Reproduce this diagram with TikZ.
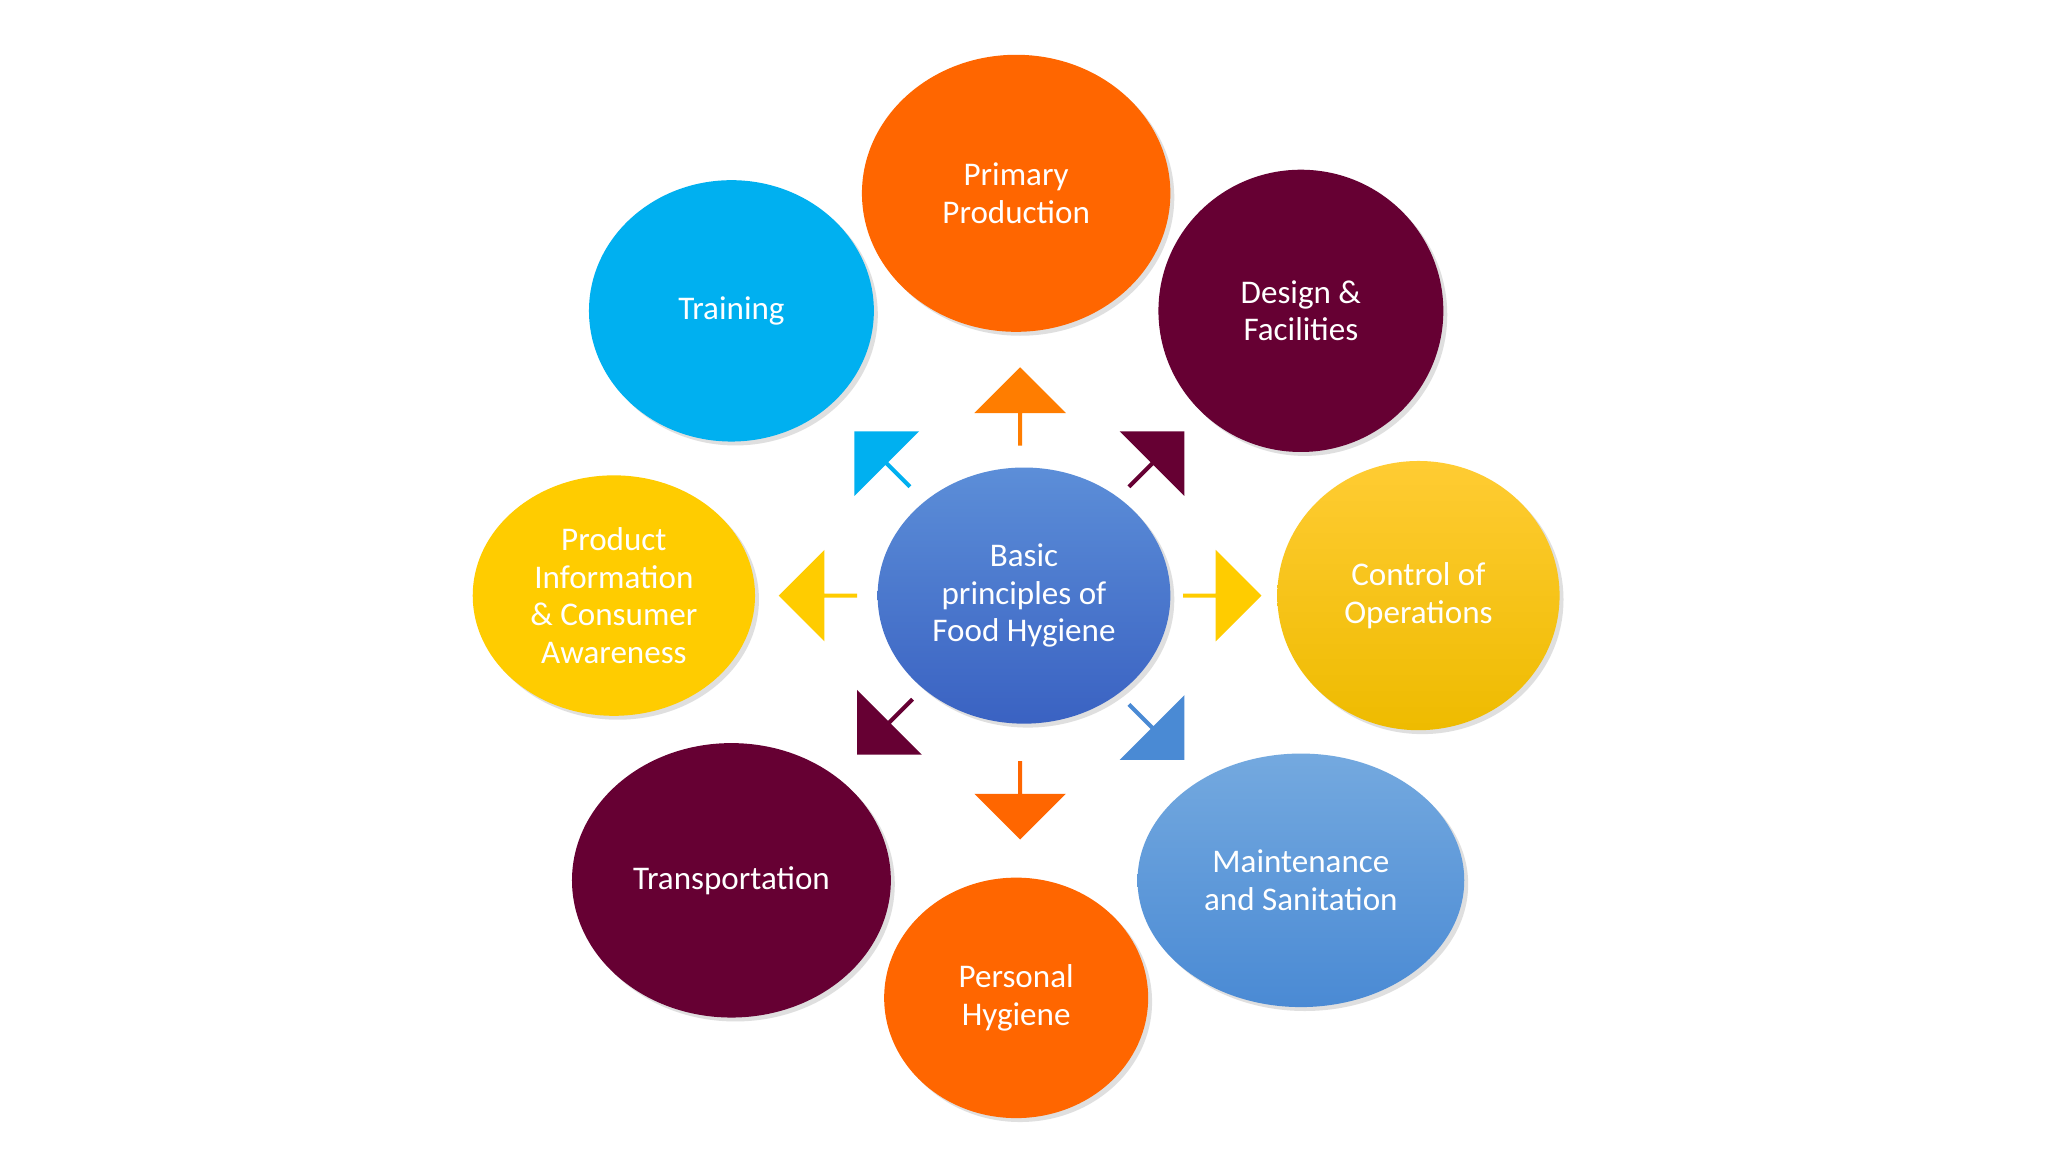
\documentclass[tikz,border=0pt]{standalone}
\usepackage{fontspec}
\setmainfont{Carlito}
\usetikzlibrary{shapes.arrows,shapes.geometric,shadows}
\definecolor{orng}{HTML}{FF6600}
\definecolor{maroon}{HTML}{660033}
\definecolor{cyanb}{HTML}{00B0F0}
\definecolor{yel}{HTML}{FFCC00}
\definecolor{yeltop}{HTML}{FFCC33}
\definecolor{yelbot}{HTML}{EEBB00}
\definecolor{bltop}{HTML}{5C8ED8}
\definecolor{blbot}{HTML}{3A62C2}
\definecolor{lbtop}{HTML}{74A9DF}
\definecolor{lbbot}{HTML}{4A8AD4}
\tikzset{
 bub/.style={ellipse, inner sep=0, align=center, text=white,
   font=\fontsize{7.2}{8.2}\selectfont,
   drop shadow={opacity=0.25,shadow xshift=0.03cm,shadow yshift=-0.03cm}},
 arr/.style={single arrow, inner sep=0, minimum height=0.6cm, minimum width=0.7cm,
   single arrow head extend=0.15cm, anchor=center}
}
\begin{document}
\begin{tikzpicture}[x=0.01cm,y=-0.01cm]
\useasboundingbox (0,0) rectangle (1568,882);
\fill[white] (0,0) rectangle (1568,882);
\node[bub, fill=orng, minimum width=2.36cm, minimum height=2.12cm] (pp) at (778,148) {Primary\\Production};
\node[bub, fill=maroon, minimum width=2.18cm, minimum height=2.16cm] (df) at (996,238) {Design \&\\Facilities};
\node[bub, fill=cyanb, minimum width=2.18cm, minimum height=2.0cm] (tr) at (560,238) {Training};
\node[bub, fill=yel, minimum width=2.16cm, minimum height=1.84cm] (pi) at (470,456) {Product\\Information\\\& Consumer\\Awareness};
\node[bub, top color=bltop, bottom color=blbot, minimum width=2.24cm, minimum height=1.96cm] (c) at (784,456) {Basic\\principles of\\Food Hygiene};
\node[bub, top color=yeltop, bottom color=yelbot, minimum width=2.16cm, minimum height=2.06cm] (co) at (1086,456) {Control of\\Operations};
\node[bub, fill=maroon, minimum width=2.44cm, minimum height=2.10cm] (tp) at (560,674) {Transportation};
\node[bub, top color=lbtop, bottom color=lbbot, minimum width=2.50cm, minimum height=1.94cm] (ms) at (996,674) {Maintenance\\and Sanitation};
\node[bub, fill=orng, minimum width=2.02cm, minimum height=1.84cm] (ph) at (778,764) {Personal\\Hygiene};
\node[arr, fill=orng!85!yellow, rotate=90] (a1) at (781,312) {};
\node[arr, fill=maroon, rotate=45] (a2) at (885,352) {};
\node[arr, fill=yel, rotate=0] (a3) at (935,456) {};
\node[arr, fill=lbbot, rotate=-45] (a4) at (885,560) {};
\node[arr, fill=orng, rotate=-90] (a5) at (781,612) {};
\node[arr, fill=maroon, rotate=-135] (a6) at (678,556) {};
\node[arr, fill=yel, rotate=180] (a7) at (627,456) {};
\node[arr, fill=cyanb, rotate=135] (a8) at (676,352) {};
\end{tikzpicture}
\end{document}
